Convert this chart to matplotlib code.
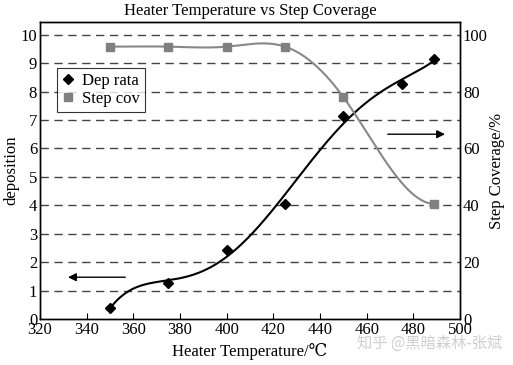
import numpy as np
import matplotlib
matplotlib.use("Agg")
import matplotlib.pyplot as plt
from numpy.polynomial import Polynomial

plt.rcParams['font.family'] = ['Liberation Serif', 'DejaVu Serif']

# Data
dep_temp = [350, 375, 400, 425, 450, 475, 489]
dep_rate = [0.39, 1.27, 2.43, 4.05, 7.15, 8.27, 9.15]
cov_temp = [350, 375, 400, 425, 450, 489]
cov_vals = [95.8, 95.8, 95.8, 95.8, 78.0, 40.5]
x_ticks = [320, 340, 360, 380, 400, 420, 440, 460, 480, 500]
left_ticks = [0, 1, 2, 3, 4, 5, 6, 7, 8, 9, 10]
right_ticks = [0, 20, 40, 60, 80, 100]


def poly_curve(x, y, deg, n=400):
    p = Polynomial.fit(x, y, deg)
    xs = np.linspace(min(x), max(x), n)
    return xs, p(xs)


def clamped_spline(x, y, d0=0.0, dn=0.0, n=400):
    x = np.asarray(x, float)
    y = np.asarray(y, float)
    m = len(x)
    h = np.diff(x)
    A = np.zeros((m, m))
    b = np.zeros(m)
    A[0, 0] = 2 * h[0]
    A[0, 1] = h[0]
    b[0] = 6 * ((y[1] - y[0]) / h[0] - d0)
    A[-1, -2] = h[-1]
    A[-1, -1] = 2 * h[-1]
    b[-1] = 6 * (dn - (y[-1] - y[-2]) / h[-1])
    for i in range(1, m - 1):
        A[i, i - 1] = h[i - 1]
        A[i, i] = 2 * (h[i - 1] + h[i])
        A[i, i + 1] = h[i]
        b[i] = 6 * ((y[i + 1] - y[i]) / h[i] - (y[i] - y[i - 1]) / h[i - 1])
    M = np.linalg.solve(A, b)
    xs = np.linspace(x[0], x[-1], n)
    idx = np.clip(np.searchsorted(x, xs) - 1, 0, m - 2)
    x0 = x[idx]; x1 = x[idx + 1]; hh = x1 - x0
    ys = (M[idx] * (x1 - xs) ** 3 / (6 * hh) + M[idx + 1] * (xs - x0) ** 3 / (6 * hh)
          + (y[idx] / hh - M[idx] * hh / 6) * (x1 - xs)
          + (y[idx + 1] / hh - M[idx + 1] * hh / 6) * (xs - x0))
    return xs, ys


fig = plt.figure(figsize=(5.13, 3.65), dpi=100)
ax = fig.add_axes([0.078, 0.126, 0.819, 0.814])
ax2 = ax.twinx()

ax.set_xlim(320, 500)
ax.set_ylim(0, 10.45)
ax2.set_ylim(0, 104.5)

for t in left_ticks[1:]:
    ax.axhline(t, color='#444444', linestyle=(0, (6, 4)), linewidth=1.0, zorder=1)

xs, ys = poly_curve(dep_temp, dep_rate, 5)
ax.plot(xs, ys, color='black', linewidth=1.5, zorder=3)
ax.plot(dep_temp, dep_rate, linestyle='none', marker='D', color='black',
        markersize=5.5, zorder=4, label='Dep rata')

xs2, ys2 = clamped_spline(cov_temp, cov_vals)
ax2.plot(xs2, ys2, color='#888888', linewidth=1.5, zorder=3)
ax2.plot(cov_temp, cov_vals, linestyle='none', marker='s', color='#808080',
         markersize=5.5, zorder=4, label='Step cov')

# arrows
ax.annotate('', xy=(332, 1.47), xytext=(356.5, 1.47),
            arrowprops=dict(arrowstyle='-|>', color='black', lw=1.0,
                            mutation_scale=12, shrinkA=0, shrinkB=0))
ax.annotate('', xy=(493.5, 6.5), xytext=(469, 6.5),
            arrowprops=dict(arrowstyle='-|>', color='black', lw=1.0,
                            mutation_scale=12, shrinkA=0, shrinkB=0))

ax.set_xticks(x_ticks)
ax.set_yticks(left_ticks)
ax2.set_yticks(right_ticks)
ax.tick_params(axis='x', direction='in', length=4, labelsize=12, pad=2)
ax.tick_params(axis='y', length=0, labelsize=12, pad=2)
ax2.tick_params(axis='y', length=0, labelsize=12, pad=2)

ax.set_xlabel('Heater Temperature/\u2103', fontsize=12, labelpad=4)
ax.set_ylabel('deposition', fontsize=12, labelpad=1)
ax2.set_ylabel('Step Coverage/%', fontsize=12, labelpad=1)
ax.set_title('Heater Temperature vs Step Coverage', fontsize=12, pad=5)

h1, l1 = ax.get_legend_handles_labels()
h2, l2 = ax2.get_legend_handles_labels()
leg = ax2.legend(h1 + h2, l1 + l2, loc='upper left', bbox_to_anchor=(0.04, 0.845),
                 fontsize=12, frameon=True, fancybox=False, edgecolor='black',
                 handlelength=0.8, handletextpad=0.4, borderpad=0.3,
                 labelspacing=0.1, borderaxespad=0)
leg.get_frame().set_linewidth(0.8)

for sp in ax.spines.values():
    sp.set_linewidth(1.0)
for sp in ax2.spines.values():
    sp.set_linewidth(1.0)

fig.text(0.98, 0.06, '知乎 @黑暗森林-张斌', ha='right', va='center', fontsize=11,
         color='#cfcfcf', family=['Noto Sans CJK SC', 'DejaVu Sans'])

fig.savefig('out.png', dpi=100)
